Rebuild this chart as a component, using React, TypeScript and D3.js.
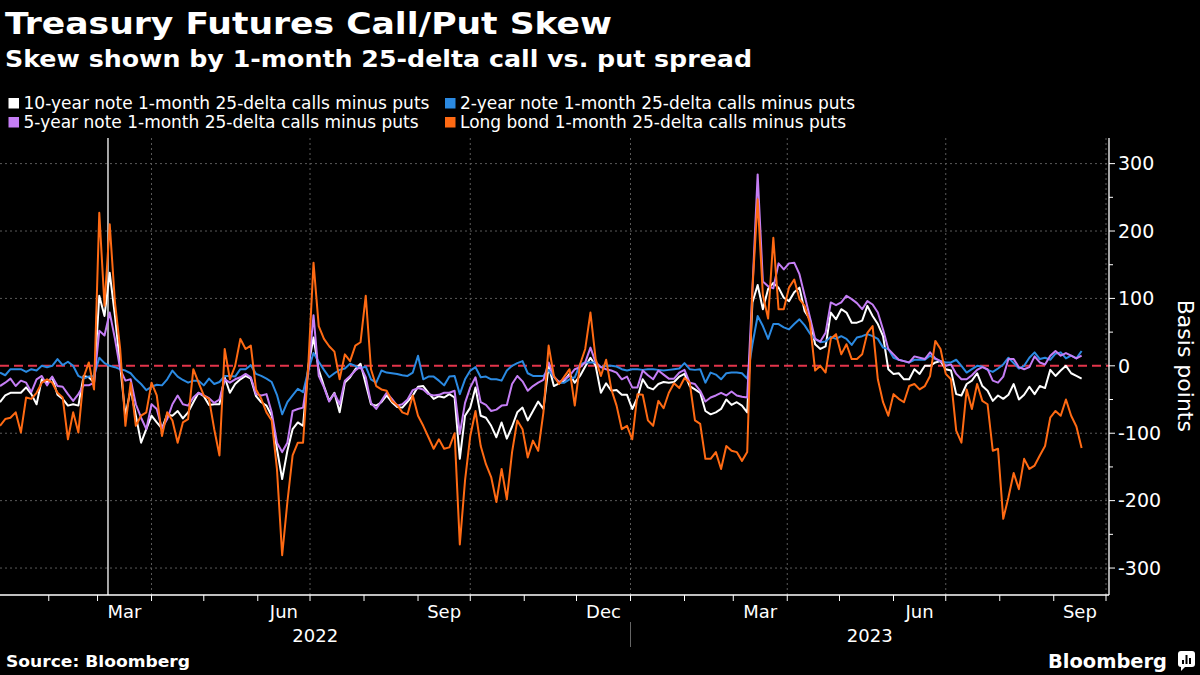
import React from "react";
import * as d3 from "d3";

const sampleDates = [
  "2022-01-04","2022-01-07","2022-01-10","2022-01-13","2022-01-16","2022-01-19","2022-01-22","2022-01-25","2022-01-28","2022-01-31",
  "2022-02-03","2022-02-06","2022-02-09","2022-02-12","2022-02-15","2022-02-18","2022-02-21","2022-02-24","2022-02-27",
  "2022-03-02","2022-03-05","2022-03-08","2022-03-11","2022-03-14","2022-03-17","2022-03-20","2022-03-23","2022-03-26","2022-03-29",
  "2022-04-01","2022-04-04","2022-04-07","2022-04-10","2022-04-13","2022-04-16","2022-04-19","2022-04-22","2022-04-25","2022-04-28",
  "2022-05-01","2022-05-04","2022-05-07","2022-05-10","2022-05-13","2022-05-16","2022-05-19","2022-05-22","2022-05-25","2022-05-28","2022-05-31",
  "2022-06-03","2022-06-06","2022-06-09","2022-06-12","2022-06-15","2022-06-18","2022-06-21","2022-06-24","2022-06-27","2022-06-30",
  "2022-07-03","2022-07-06","2022-07-09","2022-07-12","2022-07-15","2022-07-18","2022-07-21","2022-07-24","2022-07-27","2022-07-30",
  "2022-08-02","2022-08-05","2022-08-08","2022-08-11","2022-08-14","2022-08-17","2022-08-20","2022-08-23","2022-08-26","2022-08-29",
  "2022-09-01","2022-09-04","2022-09-07","2022-09-10","2022-09-13","2022-09-16","2022-09-19","2022-09-22","2022-09-25","2022-09-28",
  "2022-10-01","2022-10-04","2022-10-07","2022-10-10","2022-10-13","2022-10-16","2022-10-19","2022-10-22","2022-10-25","2022-10-28","2022-10-31",
  "2022-11-03","2022-11-06","2022-11-09","2022-11-12","2022-11-15","2022-11-18","2022-11-21","2022-11-24","2022-11-27","2022-11-30",
  "2022-12-03","2022-12-06","2022-12-09","2022-12-12","2022-12-15","2022-12-18","2022-12-21","2022-12-24","2022-12-27","2022-12-30",
  "2023-01-02","2023-01-05","2023-01-08","2023-01-11","2023-01-14","2023-01-17","2023-01-20","2023-01-23","2023-01-26","2023-01-29",
  "2023-02-01","2023-02-04","2023-02-07","2023-02-10","2023-02-13","2023-02-16","2023-02-19","2023-02-22","2023-02-25","2023-02-28",
  "2023-03-03","2023-03-06","2023-03-09","2023-03-12","2023-03-15","2023-03-18","2023-03-21","2023-03-24","2023-03-27","2023-03-30",
  "2023-04-02","2023-04-05","2023-04-08","2023-04-11","2023-04-14","2023-04-17","2023-04-20","2023-04-23","2023-04-26","2023-04-29",
  "2023-05-02","2023-05-05","2023-05-08","2023-05-11","2023-05-14","2023-05-17","2023-05-20","2023-05-23","2023-05-26","2023-05-29",
  "2023-06-01","2023-06-04","2023-06-07","2023-06-10","2023-06-13","2023-06-16","2023-06-19","2023-06-22","2023-06-25","2023-06-28",
  "2023-07-01","2023-07-04","2023-07-07","2023-07-10","2023-07-13","2023-07-16","2023-07-19","2023-07-22","2023-07-25","2023-07-28","2023-07-31",
  "2023-08-03","2023-08-06","2023-08-09","2023-08-12","2023-08-15","2023-08-18","2023-08-21","2023-08-24","2023-08-27","2023-08-30",
  "2023-09-02","2023-09-05","2023-09-08","2023-09-11","2023-09-14","2023-09-17",
];

// 10-year note 1-month 25-delta calls minus puts (bp)
const tenYear = [
  -54,-44,-40,-40,-40,-32,-42,-57,-20,-25,
  -17,-43,-49,-59,-57,-59,-15,-17,-25,104,
  74,138,74,0,-74,-35,-74,-114,-94,-74,
  -84,-93,-72,-74,-67,-78,-69,-54,-40,-45,
  -58,-57,-57,-17,-40,-27,-20,-15,-19,-45,
  -54,-59,-74,-123,-168,-126,-94,-84,-89,0,
  42,-6,-30,-52,-40,-69,-25,-17,-5,3,
  -27,-57,-59,-54,-44,-54,-61,-62,-53,-44,
  -31,-30,-40,-49,-45,-47,-42,-47,-138,-74,
  -62,-32,-74,-77,-89,-106,-84,-108,-90,-69,
  -62,-81,-67,-53,-64,0,-30,-26,-22,-12,
  -25,-15,-1,12,0,-40,-26,-37,-36,-43,
  -43,-64,-47,-20,-32,-35,-27,-24,-25,-24,
  -16,-12,-30,-35,-40,-67,-72,-69,-64,-50,
  -58,-54,-59,-69,94,120,84,114,123,116,
  101,96,109,116,81,69,32,25,29,79,
  69,84,79,64,64,67,89,74,62,44,
  -5,-12,-11,-20,-20,-5,-12,0,0,5,
  7,-5,-7,-42,-44,-27,-22,-11,-30,-37,
  -52,-44,-49,-43,-27,-50,-43,-31,-42,-30,
  -33,-6,-15,-7,0,-11,-15,-19,
];

// 2-year note 1-month 25-delta calls minus puts (bp)
const twoYear = [
  -10,-14,-5,-5,-5,-9,-5,-7,0,-2,
  0,10,1,6,0,-15,-19,-16,-15,12,
  4,0,-2,-5,-7,-11,-20,-27,-36,-31,
  -28,-29,-20,-7,-16,-21,-25,-22,-22,-29,
  -19,-27,-24,-15,-15,-16,-5,-5,1,-12,
  -15,-19,-24,-43,-72,-54,-44,-34,-39,-7,
  19,6,-6,-17,-11,-6,-4,3,0,-4,
  -1,-20,-25,-7,-10,-11,-12,-14,-15,-10,
  15,-20,-16,-16,-22,-29,-16,-15,-42,-20,
  -7,-2,-17,-16,-20,-20,-22,-7,0,4,
  7,-11,-15,-15,-15,-6,-17,-25,-25,-20,
  -17,2,5,5,5,-2,0,0,-1,-5,
  -7,-5,-5,-6,-5,-5,-6,-7,-6,-5,
  -4,4,-5,-6,-5,-25,-10,-13,-20,-11,
  -10,-10,-11,-19,32,74,59,40,62,62,
  57,54,62,69,60,48,40,35,36,43,
  40,44,40,31,42,44,47,44,40,27,
  25,12,9,7,5,9,9,9,15,10,
  7,5,5,9,0,-10,-5,0,-1,-6,
  -9,-4,2,12,4,-4,0,12,20,10,
  12,9,18,20,11,15,11,22,
];

// 5-year note 1-month 25-delta calls minus puts (bp)
const fiveYear = [
  -30,-25,-19,-30,-22,-25,-39,-20,-15,-29,
  -16,-30,-31,-42,-52,-42,-29,-29,-25,52,
  45,79,40,-5,-22,-20,-57,-77,-94,-57,
  -64,-93,-79,-57,-44,-57,-59,-47,-40,-44,
  -48,-55,-50,-20,-25,-20,-17,-12,-17,-42,
  -44,-42,-69,-114,-128,-114,-67,-64,-62,-10,
  75,-15,-32,-53,-41,-57,-22,-15,-7,-1,
  -17,-55,-64,-52,-40,-49,-59,-57,-50,-36,
  -33,-35,-42,-44,-43,-40,-40,-37,-101,-55,
  -32,-17,-54,-58,-67,-65,-59,-58,-27,-15,
  -23,-37,-30,-25,-21,5,-16,-24,-20,-15,
  -5,-2,5,27,5,-2,-5,-7,-10,-20,
  -16,-32,-32,-7,-14,-20,-7,-13,-19,-19,
  -10,-6,-25,-27,-37,-53,-47,-44,-40,-44,
  -38,-44,-46,-47,114,284,125,118,115,152,
  143,152,153,136,104,72,40,36,49,94,
  90,94,104,99,93,84,96,91,79,54,
  25,17,9,7,5,14,12,10,20,11,
  7,0,2,-12,-20,-20,-14,-6,-2,-5,
  -22,-25,-16,10,10,-2,-5,-2,14,5,
  2,15,22,15,19,15,11,15,
];

// Long bond 1-month 25-delta calls minus puts (bp)
const longBond = [
  -89,-79,-77,-69,-99,-47,-49,-40,-25,-20,
  -25,-40,-47,-109,-69,-99,-17,5,-35,227,
  89,210,94,25,-89,-25,-89,-74,-69,-25,
  -44,-104,-69,-81,-114,-84,-79,-5,-25,-44,
  -49,-94,-133,25,-20,0,40,25,30,-35,
  -49,-69,-81,-153,-281,-202,-133,-114,-114,0,
  153,59,40,29,21,-20,17,7,30,35,
  104,-5,-30,-35,-37,-52,-58,-69,-72,-44,
  -74,-89,-106,-123,-109,-123,-121,-100,-265,-170,
  -104,-67,-119,-146,-165,-202,-153,-198,-128,-81,
  -94,-136,-111,-126,-69,30,-15,-27,-16,-5,
  -59,2,25,79,10,-15,9,-35,-59,-94,
  -89,-109,-42,-43,-81,-89,-52,-63,-40,-26,
  -33,-18,-25,-81,-86,-138,-138,-128,-153,-119,
  -126,-128,-141,-128,114,247,105,70,190,84,
  84,116,128,99,89,64,-7,0,-10,40,
  47,17,32,10,10,17,49,59,-20,-54,
  -74,-42,-49,-54,-30,-27,-35,-30,-15,37,
  25,-12,-20,-96,-114,-35,-64,-27,-52,-57,
  -126,-123,-227,-195,-159,-183,-138,-153,-148,-133,
  -119,-77,-67,-74,-50,-74,-90,-122,
];

const seriesNames = [
  "10-year note 1-month 25-delta calls minus puts",
  "2-year note 1-month 25-delta calls minus puts",
  "5-year note 1-month 25-delta calls minus puts",
  "Long bond 1-month 25-delta calls minus puts",
];
const seriesColors = ["#ffffff", "#2b8ae2", "#c57ef5", "#ff6a13"];

const markerDate = "2022-03-07";
const yTickValues = [300, 200, 100, 0, -100, -200, -300];
const yMinorTicks = [250, 150, 50, -50, -150, -250];
const monthLabelKeys = ["2022-03", "2022-06", "2022-09", "2022-12", "2023-03", "2023-06", "2023-09"];
const monthLabelText = ["Mar", "Jun", "Sep", "Dec", "Mar", "Jun", "Sep"];
const yearLabels = ["2022", "2023"];

const FONT = "'DejaVu Sans', sans-serif";

export default function App() {
  const W = 1200;
  const H = 675;
  const plotLeft = 0;
  const plotRight = 1109;
  const plotTop = 138;
  const plotBottom = 595;

  const parse = d3.timeParse("%Y-%m-%d");
  const dates = sampleDates.map((s) => parse(s) as Date);

  const x = d3
    .scaleTime()
    .domain([new Date(2022, 0, 4), new Date(2023, 9, 1)])
    .range([0, 1106]);
  const y = d3.scaleLinear().domain([-340, 338]).range([plotBottom, plotTop]);

  const line = d3
    .line<number>()
    .x((_, i) => x(dates[i]))
    .y((d) => y(d));

  const series = [tenYear, twoYear, fiveYear, longBond];

  const monthTicks = d3.timeMonth.range(new Date(2022, 1, 1), new Date(2023, 9, 2));
  const quarterTicks = monthTicks.filter((d) => d.getMonth() % 3 === 0);

  const monthLabels = monthLabelKeys.map((k, i) => {
    const start = parse(k + "-01") as Date;
    const end = d3.timeMonth.offset(start, 1);
    return { text: monthLabelText[i], cx: (x(start) + x(end)) / 2 };
  });

  const yearPos = yearLabels.map((yr) => {
    const s = Math.max(plotLeft, x(new Date(+yr, 0, 1)));
    const e = Math.min(plotRight, x(new Date(+yr + 1, 0, 1)));
    return { text: yr, cx: (s + e) / 2 };
  });
  const yearSepX = x(new Date(2023, 0, 1));
  const markerX = x(parse(markerDate) as Date);

  const legendItems = [
    { idx: 0, lx: 8.5, ly: 98 },
    { idx: 1, lx: 445, ly: 98 },
    { idx: 2, lx: 8.5, ly: 117 },
    { idx: 3, lx: 445, ly: 117 },
  ];

  return (
    <svg
      width={W}
      height={H}
      viewBox={`0 0 ${W} ${H}`}
      style={{ position: "absolute", left: 0, top: 0, background: "#000" }}
    >
      <rect x={0} y={0} width={W} height={H} fill="#000" />

      {/* Titles */}
      <text x={5} y={34} fill="#fff" fontFamily={FONT} fontWeight="bold" fontSize={30} textLength={607} lengthAdjust="spacingAndGlyphs">
        Treasury Futures Call/Put Skew
      </text>
      <text x={5} y={67} fill="#fff" fontFamily={FONT} fontWeight="bold" fontSize={22.5} textLength={747} lengthAdjust="spacingAndGlyphs">
        Skew shown by 1-month 25-delta call vs. put spread
      </text>

      {/* Legend */}
      {legendItems.map((it) => (
        <g key={it.idx}>
          <rect x={it.lx} y={it.ly} width={10.5} height={10.5} fill={seriesColors[it.idx]} />
          <text x={it.lx + 15} y={it.ly + 10.5} fill="#fff" fontFamily={FONT} fontSize={17}>
            {seriesNames[it.idx]}
          </text>
        </g>
      ))}

      {/* Horizontal gridlines */}
      {yTickValues
        .filter((v) => v !== 0)
        .map((v) => (
          <line key={"hg" + v} x1={plotLeft} x2={plotRight} y1={y(v)} y2={y(v)} stroke="#5a5a5a" strokeWidth={1} strokeDasharray="2,3" />
        ))}
      {/* Vertical gridlines */}
      {quarterTicks.map((d) => (
        <line key={"vg" + +d} x1={x(d)} x2={x(d)} y1={plotTop} y2={plotBottom} stroke="#5a5a5a" strokeWidth={1} strokeDasharray="2,3" />
      ))}

      {/* Zero line */}
      <line x1={plotLeft} x2={plotRight} y1={y(0)} y2={y(0)} stroke="#e3354b" strokeWidth={2} strokeDasharray="9,5" />

      {/* Marker line */}
      <line x1={markerX} x2={markerX} y1={plotTop} y2={plotBottom} stroke="#fff" strokeWidth={1.3} />

      {/* Series */}
      {series.map((s, i) => (
        <path key={"s" + i} d={line(s) || ""} fill="none" stroke={seriesColors[i]} strokeWidth={2} strokeLinejoin="round" />
      ))}

      {/* X axis */}
      <line x1={plotLeft} x2={plotRight} y1={plotBottom} y2={plotBottom} stroke="#fff" strokeWidth={1.3} />
      {monthTicks.map((d) => (
        <line key={"mt" + +d} x1={x(d)} x2={x(d)} y1={plotBottom} y2={plotBottom + 6} stroke="#fff" strokeWidth={1} />
      ))}
      {monthLabels.map((m, i) => (
        <text key={"ml" + i} x={m.cx} y={618} fill="#fff" fontFamily={FONT} fontSize={18} textAnchor="middle">
          {m.text}
        </text>
      ))}
      {yearPos.map((yp) => (
        <text key={"yl" + yp.text} x={yp.cx} y={642} fill="#fff" fontFamily={FONT} fontSize={18} textAnchor="middle">
          {yp.text}
        </text>
      ))}
      <line x1={yearSepX} x2={yearSepX} y1={622} y2={647} stroke="#666" strokeWidth={1} />

      {/* Right Y axis */}
      <line x1={plotRight} x2={plotRight} y1={plotTop} y2={plotBottom} stroke="#fff" strokeWidth={1.3} />
      {yTickValues.map((v) => (
        <g key={"yt" + v}>
          <line x1={plotRight} x2={plotRight + 6} y1={y(v)} y2={y(v)} stroke="#fff" strokeWidth={1} />
          <text x={plotRight + 9} y={y(v)} dy="0.36em" fill="#fff" fontFamily={FONT} fontSize={19}>
            {String(v)}
          </text>
        </g>
      ))}
      {yMinorTicks.map((v) => (
        <line key={"ym" + v} x1={plotRight} x2={plotRight + 4} y1={y(v)} y2={y(v)} stroke="#fff" strokeWidth={1} />
      ))}
      <text
        transform={`translate(1178, ${y(0)}) rotate(90)`}
        fill="#fff"
        fontFamily={FONT}
        fontSize={22}
        textAnchor="middle"
      >
        Basis points
      </text>

      {/* Footer */}
      <text x={6} y={667} fill="#fff" fontFamily={FONT} fontWeight="bold" fontSize={15.5} textLength={184} lengthAdjust="spacingAndGlyphs">
        Source: Bloomberg
      </text>
      <text x={1048} y={668} fill="#fff" fontFamily={FONT} fontWeight="bold" fontSize={19} textLength={119} lengthAdjust="spacingAndGlyphs">
        Bloomberg
      </text>
      <g>
        <rect x={1178} y={651} width={17} height={16} rx={3} fill="#fff" />
        <path d="M1181 666 L1181 671 L1186 666 Z" fill="#fff" />
        <rect x={1182} y={660} width={2} height={4} fill="#000" />
        <rect x={1185.5} y={655} width={2} height={9} fill="#000" />
        <rect x={1189} y={658} width={2} height={6} fill="#000" />
      </g>
    </svg>
  );
}
